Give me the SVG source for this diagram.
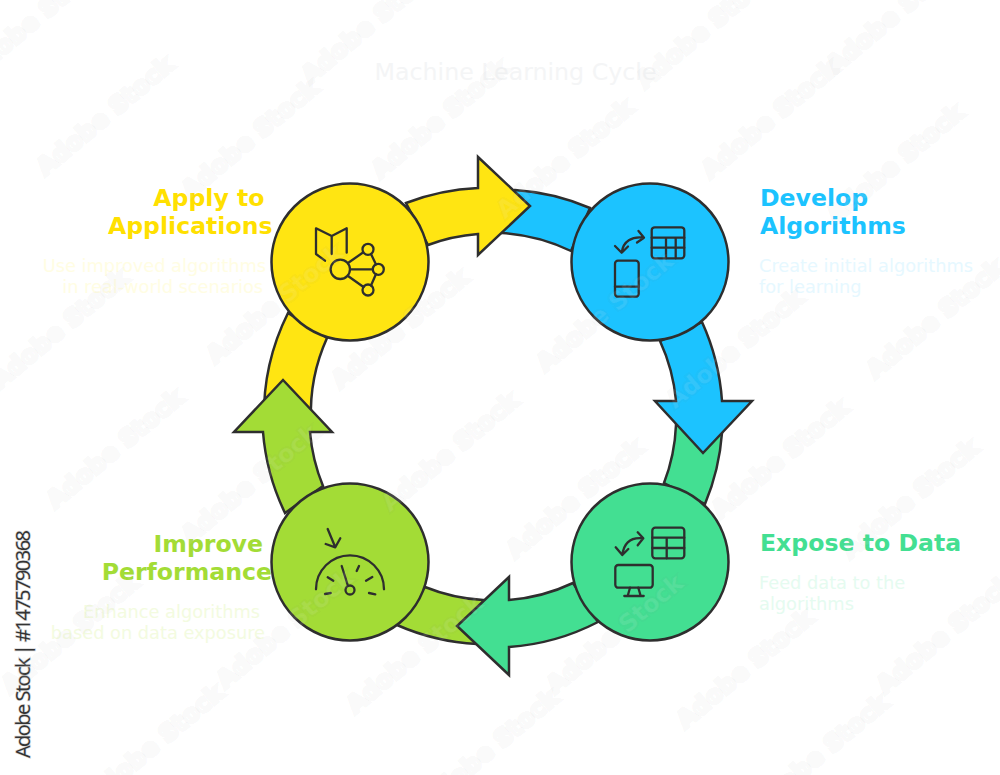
<svg xmlns="http://www.w3.org/2000/svg" xmlns:xlink="http://www.w3.org/1999/xlink" width="1000" height="775" viewBox="0 0 1000 775">
<style>
.s{stroke:#2e2e2e;stroke-width:2.5;stroke-linejoin:miter}
.y{fill:#ffe512}.b{fill:#1cc3ff}.g{fill:#43df92}.l{fill:#a3dc36}
.i{fill:none;stroke:#2e2e2e;stroke-width:2.3;stroke-linecap:round;stroke-linejoin:round}
text{font-family:"DejaVu Sans",sans-serif}
.h{font-size:23.6px;font-weight:700}
.d{font-size:17.750px}
.wm{font-size:24px;font-weight:700;fill:#fff;fill-opacity:.09;stroke:#777;stroke-opacity:.035;stroke-width:4;paint-order:stroke}
</style>
<defs><text id="w" class="wm" text-anchor="middle">Adobe Stock</text></defs>
<rect width="1000" height="775" fill="#fff"/>
<text x="515.500" y="80" text-anchor="middle" font-size="23.700" fill="#f4f5f6">Machine Learning Cycle</text>
<g id="connectors">
<path id="tail-blue" class="s b" d="M502,233 L515,190 A228,228 0 0 1 590,208 L571,251 A182,182 0 0 0 502,233 Z"/>
<path id="tail-green" class="s g" d="M676,425 L722,433 A228,228 0 0 1 705,504 L664,483 A182,182 0 0 0 676,425 Z"/>
<path id="tail-lime" class="s l" d="M483,600 L477,644 A228,228 0 0 1 397,625 L425,587 A182,182 0 0 0 483,600 Z"/>
<path id="tail-yellow" class="s y" d="M264,420 A228,228 0 0 1 288,313 L327,338 A182,182 0 0 0 311,420 Z"/>
<path id="arrow-yellow" class="s y" d="M406,203 A228,228 0 0 1 478,188 L478,157 L530,206 L478,255 L478,234 A182,182 0 0 0 428,245 Z"/>
<path id="arrow-blue" class="s b" d="M702,322 A228,228 0 0 1 722,401 L752,401 L703,453 L655,401 L676,401 A182,182 0 0 0 660,341 Z"/>
<path id="arrow-green" class="s g" d="M598,622 A228,228 0 0 1 509,647 L509,675 L457,626 L509,577 L509,600 A182,182 0 0 0 573,583 Z"/>
<path id="arrow-lime" class="s l" d="M285,513 A228,228 0 0 1 263,432 L234,432 L283,380 L332,432 L310,432 A182,182 0 0 0 323,486 Z"/>
</g>
<g id="node-apply">
<circle class="s y" cx="350" cy="262" r="78.500"/>
<path class="i" d="M325,260.700 L316,254 V228.300 L331.700,236 L346.700,228.300 V252.700 M331.700,236 V254"/>
<circle class="i" cx="340.300" cy="269.300" r="9.700"/>
<circle class="i" cx="368" cy="249.300" r="5.500"/><circle class="i" cx="378.300" cy="269.300" r="5.500"/><circle class="i" cx="368" cy="290" r="5.500"/>
<path class="i" d="M348,263 L363,252.500 M350,269.300 H372.800 M348,276 L363.500,287 M371,254 L376,264.500 M376,274 L371,285.500"/>
<text class="h" fill="#ffe000" x="264.500" y="206" text-anchor="end">Apply to</text>
<text class="h" fill="#ffe000" x="272.500" y="234" text-anchor="end">Applications</text>
<text class="d" fill="#fffde3" x="266" y="272" text-anchor="end">Use improved algorithms</text>
<text class="d" fill="#fffde3" x="263" y="293" text-anchor="end">in real-world scenarios</text>
</g>
<g id="node-develop">
<circle class="s b" cx="650" cy="262" r="78.500"/>
<rect class="i" x="651.700" y="227.300" width="32.600" height="31" rx="3"/>
<path class="i" d="M651.700,237.700 H684.300 M651.700,247.700 H684.300 M666,237.700 V258.300 M675.700,237.700 V258.300"/>
<rect class="i" x="615" y="260.700" width="23.700" height="36" rx="3"/>
<path class="i" d="M615,286.700 H638.700"/>
<path class="i" d="M638.500,231 L644,237.700 L637,242.500 M644,237.700 C632,236 623,241 621.700,252.700 M615,246 L621.700,252.700 L628,246.500"/>
<text class="h" fill="#1cc3ff" x="760" y="206">Develop</text>
<text class="h" fill="#1cc3ff" x="760" y="234">Algorithms</text>
<text class="d" fill="#e6f8ff" x="759" y="272">Create initial algorithms</text>
<text class="d" fill="#e6f8ff" x="759" y="293">for learning</text>
</g>
<g id="node-expose">
<circle class="s g" cx="650" cy="562" r="78.500"/>
<rect class="i" x="652.300" y="527.700" width="32" height="30.600" rx="3"/>
<path class="i" d="M652.300,537.700 H684.300 M652.300,548 H684.300 M666.700,537.700 V558.300"/>
<path class="i" d="M637.700,532.300 L643.300,538.300 L637.700,545.300 M643.300,538.300 C632,537 624,542 622.300,555 M615.700,547.300 L622.300,555 L628.300,549"/>
<rect class="i" x="615.300" y="565" width="37.400" height="22.700" rx="3"/>
<path class="i" d="M630,587.700 L627.700,596 M638.300,587.700 L640.700,596 M624.300,596 H643.700"/>
<text class="h" fill="#43df92" x="760" y="551">Expose to Data</text>
<text class="d" fill="#e5fbf0" x="759" y="589">Feed data to the</text>
<text class="d" fill="#e5fbf0" x="759" y="610">algorithms</text>
</g>
<g id="node-improve">
<circle class="s l" cx="350" cy="562" r="78.500"/>
<path class="i" d="M316,589.300 A34,34 0 0 1 384,589.300"/>
<circle class="i" cx="350" cy="590" r="4.500"/>
<path class="i" d="M341.700,566 L347.700,585 M325,594 L330.700,593 M327.700,577.300 L333.300,580.700 M356.700,571 L359,566 M366,580.700 L372.300,577 M369,593 L375.300,594.300"/>
<path class="i" d="M327.700,529 L335.300,547.300 M325.700,544 L335.300,547.300 L340.300,538.300"/>
<text class="h" fill="#a3dc36" x="263" y="552" text-anchor="end">Improve</text>
<text class="h" fill="#a3dc36" x="272" y="580" text-anchor="end">Performance</text>
<text class="d" fill="#f3fbe0" x="260" y="618" text-anchor="end">Enhance algorithms</text>
<text class="d" fill="#f3fbe0" x="265" y="639" text-anchor="end">based on data exposure</text>
</g>
<text x="30" y="758" transform="rotate(-90 30 758)" font-size="20" fill="#333" stroke="#aaa" stroke-opacity=".45" stroke-width="1.500" paint-order="stroke" textLength="228" lengthAdjust="spacing" style="font-family:'Open Sans',sans-serif">Adobe Stock | #1475790368</text>
<g id="watermarks">
<use xlink:href="#w" transform="translate(40,25) rotate(-40)"/><use xlink:href="#w" transform="translate(110,122) rotate(-40)"/><use xlink:href="#w" transform="translate(255,145) rotate(-40)"/><use xlink:href="#w" transform="translate(375,30) rotate(-40)"/><use xlink:href="#w" transform="translate(445,125) rotate(-40)"/><use xlink:href="#w" transform="translate(570,165) rotate(-40)"/><use xlink:href="#w" transform="translate(710,35) rotate(-40)"/><use xlink:href="#w" transform="translate(775,125) rotate(-40)"/><use xlink:href="#w" transform="translate(900,170) rotate(-40)"/><use xlink:href="#w" transform="translate(900,20) rotate(-40)"/><use xlink:href="#w" transform="translate(65,335) rotate(-40)"/><use xlink:href="#w" transform="translate(280,310) rotate(-40)"/><use xlink:href="#w" transform="translate(405,335) rotate(-40)"/><use xlink:href="#w" transform="translate(610,318) rotate(-40)"/><use xlink:href="#w" transform="translate(740,355) rotate(-40)"/><use xlink:href="#w" transform="translate(940,325) rotate(-40)"/><use xlink:href="#w" transform="translate(120,455) rotate(-40)"/><use xlink:href="#w" transform="translate(255,490) rotate(-40)"/><use xlink:href="#w" transform="translate(455,458) rotate(-40)"/><use xlink:href="#w" transform="translate(580,505) rotate(-40)"/><use xlink:href="#w" transform="translate(785,465) rotate(-40)"/><use xlink:href="#w" transform="translate(915,505) rotate(-40)"/><use xlink:href="#w" transform="translate(75,640) rotate(-40)"/><use xlink:href="#w" transform="translate(290,635) rotate(-40)"/><use xlink:href="#w" transform="translate(420,660) rotate(-40)"/><use xlink:href="#w" transform="translate(620,640) rotate(-40)"/><use xlink:href="#w" transform="translate(750,675) rotate(-40)"/><use xlink:href="#w" transform="translate(950,640) rotate(-40)"/><use xlink:href="#w" transform="translate(160,750) rotate(-40)"/><use xlink:href="#w" transform="translate(495,755) rotate(-40)"/><use xlink:href="#w" transform="translate(825,760) rotate(-40)"/>
</g>
</svg>
